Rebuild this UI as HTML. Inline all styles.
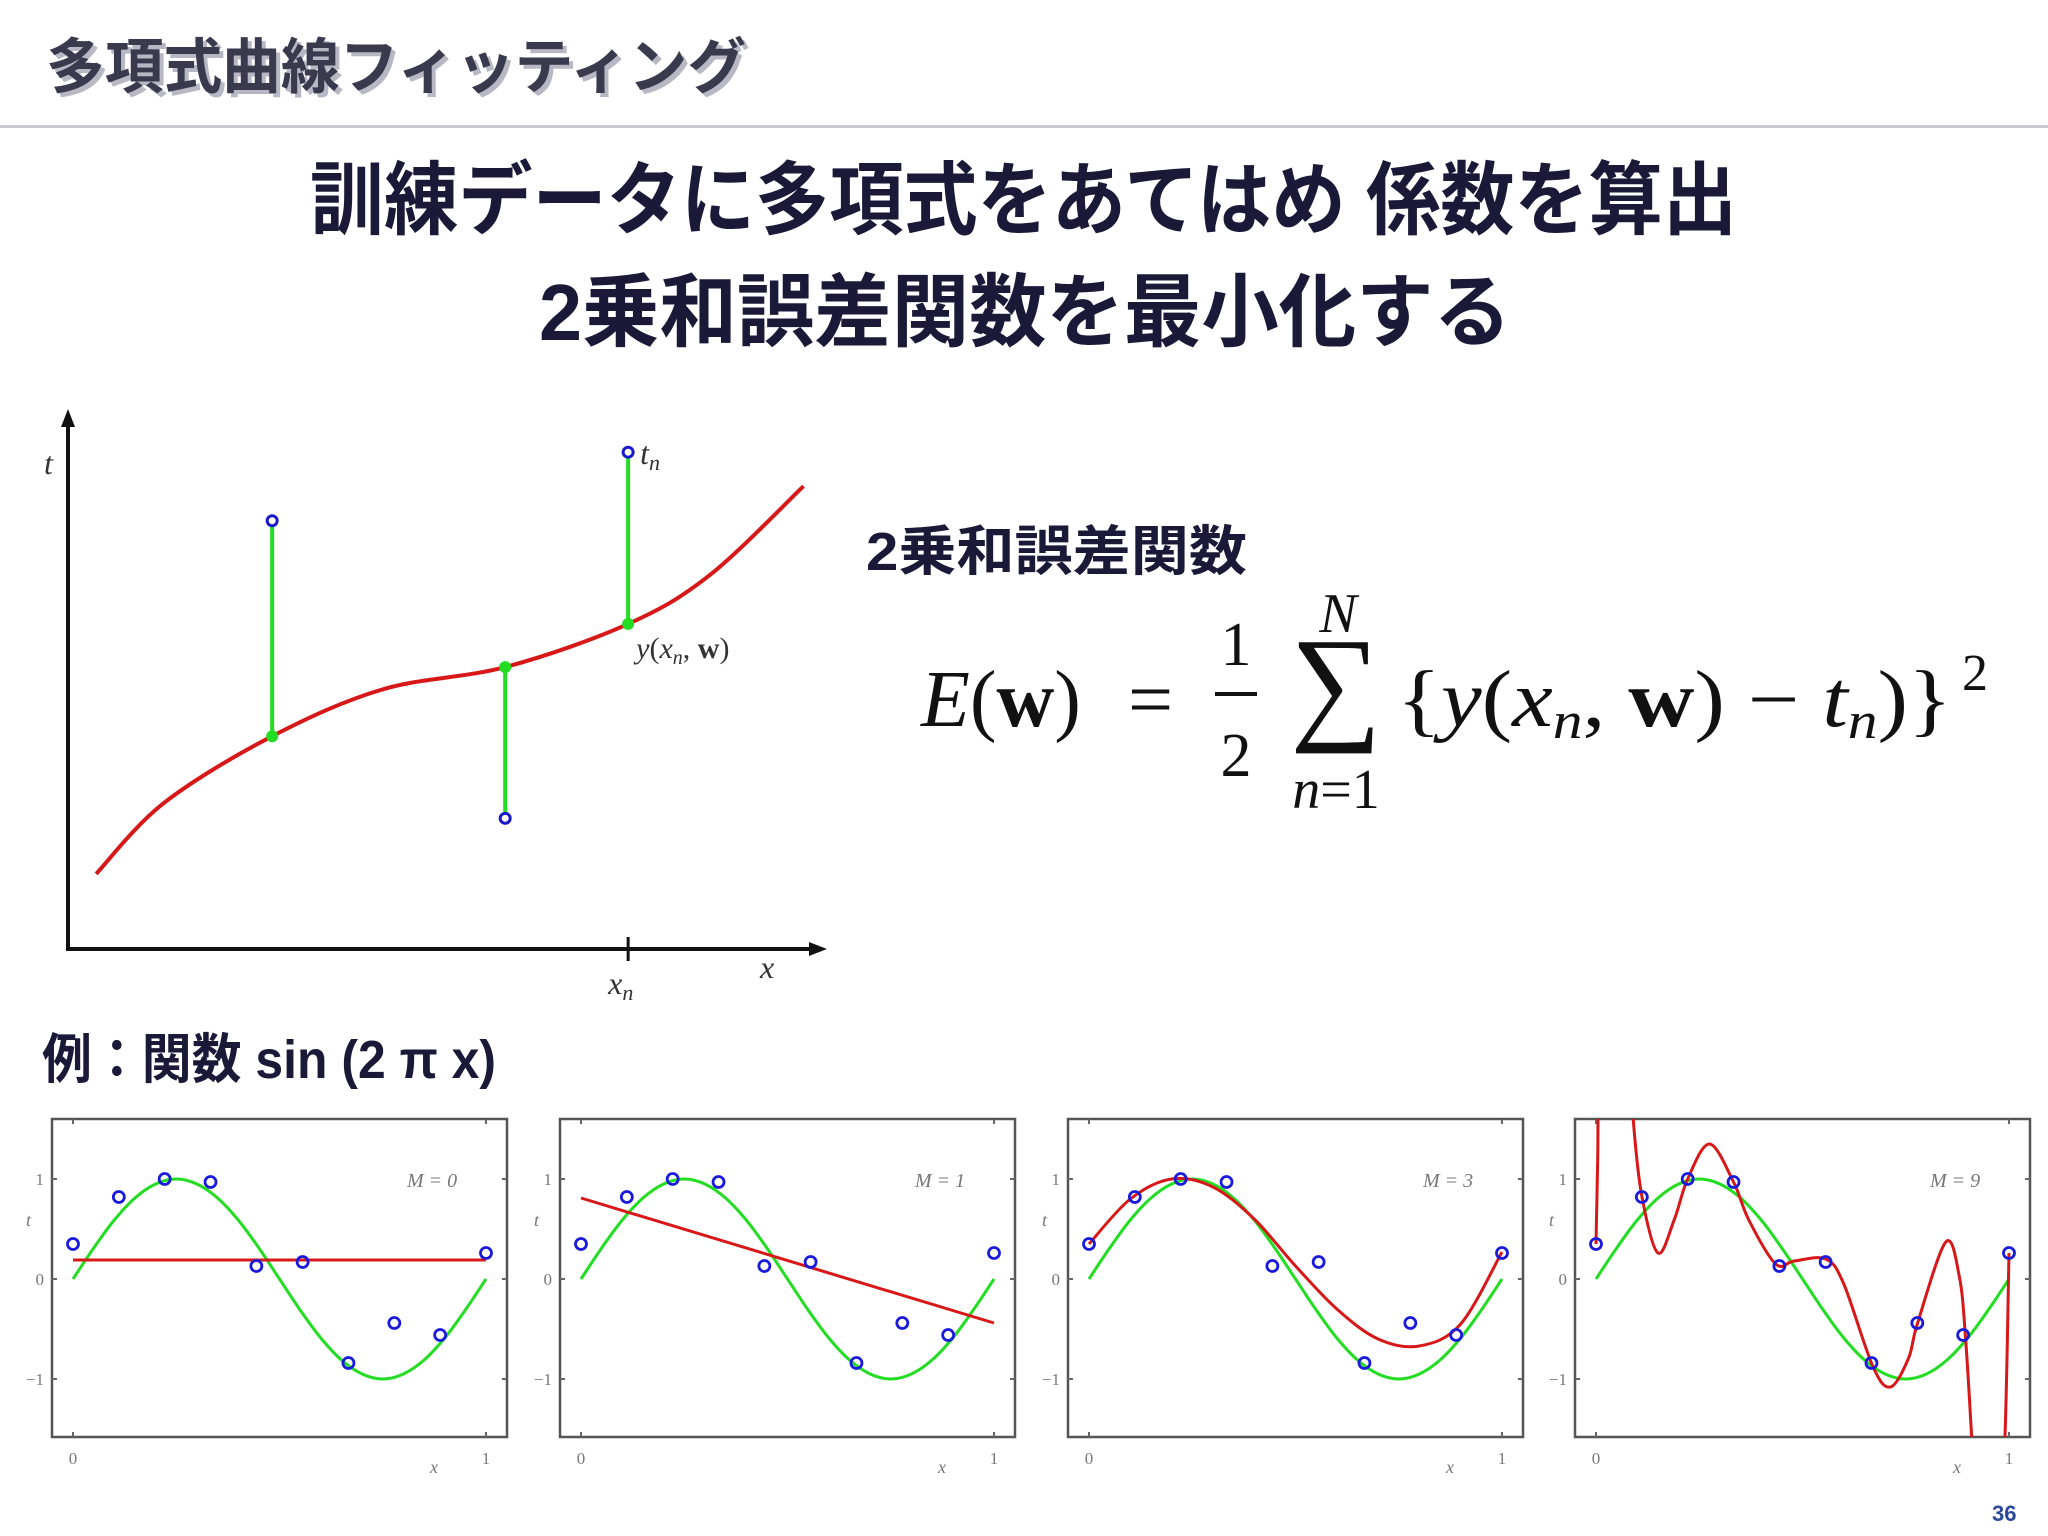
<!DOCTYPE html>
<html><head><meta charset="utf-8">
<style>
html,body{margin:0;padding:0;background:#fff;}
svg{display:block;}
.jp{font-family:"Liberation Sans","Noto Sans CJK JP",sans-serif;font-weight:bold;}
.ser{font-family:"Liberation Serif","DejaVu Serif",serif;}
</style></head>
<body>
<svg id="page" width="2048" height="1536" viewBox="0 0 2048 1536" xmlns="http://www.w3.org/2000/svg">
  <g>
    <text class="jp" x="50" y="92" font-size="60" fill="#b8b8c4" textLength="700" lengthAdjust="spacingAndGlyphs">多項式曲線フィッティング</text>
    <text class="jp" x="46" y="88" font-size="60" fill="#3a3a4e" textLength="700" lengthAdjust="spacingAndGlyphs">多項式曲線フィッティング</text>
    <rect x="0" y="125" width="2048" height="3" fill="#c8c8d8"/>
  </g>
  <text class="jp" x="310" y="228" font-size="80" fill="#1a1a38" textLength="1427" lengthAdjust="spacingAndGlyphs">訓練データに多項式をあてはめ 係数を算出</text>
  <text class="jp" x="539" y="340" font-size="80" fill="#1a1a38" textLength="972" lengthAdjust="spacingAndGlyphs">2乗和誤差関数を最小化する</text>
  <text class="jp" x="866" y="570" font-size="54" fill="#1a1a38" textLength="381" lengthAdjust="spacingAndGlyphs">2乗和誤差関数</text>

  <g class="ser" fill="#111">
    <text x="921" y="726" font-size="80"><tspan font-style="italic">E</tspan>(<tspan font-weight="bold">w</tspan>)</text>
    <text x="1128" y="726" font-size="80">=</text>
    <text x="1236" y="665" font-size="62" text-anchor="middle">1</text>
    <rect x="1215" y="692" width="42" height="4" fill="#111"/>
    <text x="1236" y="776" font-size="62" text-anchor="middle">2</text>
    <text x="1336" y="726" font-size="128" text-anchor="middle">∑</text>
    <text x="1338" y="632" font-size="56" font-style="italic" text-anchor="middle">N</text>
    <text x="1336" y="808" font-size="56" text-anchor="middle"><tspan font-style="italic">n</tspan>=1</text>
    <text x="1397" y="726" font-size="80" textLength="555" lengthAdjust="spacingAndGlyphs">{<tspan font-style="italic">y</tspan>(<tspan font-style="italic">x</tspan><tspan font-size="52" font-style="italic" dy="12">n</tspan><tspan dy="-12">, </tspan><tspan font-weight="bold">w</tspan>) − <tspan font-style="italic">t</tspan><tspan font-size="52" font-style="italic" dy="12">n</tspan><tspan dy="-12">)}</tspan></text>
    <text x="1962" y="690" font-size="52">2</text>
  </g>

  <g id="diagram"></g>

  <text class="jp" x="42" y="1078" font-size="54" fill="#1a1a38" textLength="454" lengthAdjust="spacingAndGlyphs">例：関数 sin (2 π x)</text>

  <g id="panels"></g>

  <text class="jp" x="1992" y="1521" font-size="22" fill="#2a4a9a">36</text>
</svg>
<script>
// ---- Top diagram data (normalized x in [0,1], t in [0,1]) ----
const curveX = [0.037, 0.126, 0.269, 0.415, 0.576, 0.738, 0.846, 0.969];
const curveT = [0.139, 0.270, 0.394, 0.481, 0.522, 0.602, 0.693, 0.857];
const obsX = [0.269, 0.576, 0.738];
const obsT = [0.793, 0.242, 0.920];
const fitT = [0.394, 0.522, 0.602];

// ---- Bottom panels data ----
const pointX = [0, 0.111, 0.222, 0.333, 0.444, 0.556, 0.667, 0.778, 0.889, 1.0];
const pointT = [0.35, 0.82, 1.0, 0.97, 0.13, 0.17, -0.84, -0.44, -0.56, 0.26];
const sinX = [0,0.05,0.1,0.15,0.2,0.25,0.3,0.35,0.4,0.45,0.5,0.55,0.6,0.65,0.7,0.75,0.8,0.85,0.9,0.95,1];
const sinT = [0,0.31,0.59,0.81,0.95,1,0.95,0.81,0.59,0.31,0,-0.31,-0.59,-0.81,-0.95,-1,-0.95,-0.81,-0.59,-0.31,0];
const m0X = [0, 1];
const m0T = [0.19, 0.19];
const m1X = [0, 1];
const m1T = [0.81, -0.44];
const m3X = [0,0.1,0.2,0.3,0.4,0.5,0.6,0.7,0.8,0.9,1];
const m3T = [0.35,0.8,1.0,0.92,0.6,0.13,-0.3,-0.6,-0.67,-0.45,0.27];
const m9X = [0,0.004,0.008,0.03,0.06,0.085,0.09,0.111,0.15,0.19,0.222,0.275,0.333,0.37,0.435,0.48,0.556,0.6,0.67,0.713,0.757,0.778,0.847,0.88,0.895,0.91,0.93,0.97,0.99,1.0];
const m9T = [0.35,1.2,2.2,4,4,2.2,1.6,0.83,0.26,0.6,1.0,1.35,0.97,0.59,0.15,0.18,0.2,-0.05,-0.87,-1.08,-0.79,-0.45,0.37,0.02,-0.6,-1.6,-3,-3,-1.6,0.26];
const panelLabels = ["M = 0", "M = 1", "M = 3", "M = 9"];
const yTickVals = [1, 0, -1];
const yTickLabels = ["1", "0", "−1"];
const xTickVals = [0, 1];
const xTickLabels = ["0", "1"];

const NS = "http://www.w3.org/2000/svg";
function mk(tag, attrs, parent) {
  const e = document.createElementNS(NS, tag);
  for (const k in attrs) e.setAttribute(k, attrs[k]);
  parent.appendChild(e);
  return e;
}
function smoothPath(pts) {
  let d = "M" + pts[0][0].toFixed(1) + "," + pts[0][1].toFixed(1);
  for (let i = 0; i < pts.length - 1; i++) {
    const p0 = pts[i - 1] || pts[i], p1 = pts[i], p2 = pts[i + 1], p3 = pts[i + 2] || p2;
    const c1 = [p1[0] + (p2[0] - p0[0]) / 6, p1[1] + (p2[1] - p0[1]) / 6];
    const c2 = [p2[0] - (p3[0] - p1[0]) / 6, p2[1] - (p3[1] - p1[1]) / 6];
    d += " C" + c1[0].toFixed(1) + "," + c1[1].toFixed(1) + " " + c2[0].toFixed(1) + "," + c2[1].toFixed(1) + " " + p2[0].toFixed(1) + "," + p2[1].toFixed(1);
  }
  return d;
}

// ---------- Top diagram ----------
(function () {
  const g = document.getElementById("diagram");
  const X0 = 68, X1 = 827, Y0 = 949, Y1 = 409;
  const sx = v => X0 + v * (X1 - X0);
  const sy = v => Y0 - v * (Y0 - Y1);
  const yAxis = mk("line", {x1: X0, y1: Y0 + 2, x2: X0, y2: Y1 + 14, stroke: "#111", "stroke-width": 4}, g);
  
  
  const ya = mk("polygon", {points: `${X0-7},${Y1+18} ${X0+7},${Y1+18} ${X0},${Y1}`, fill: "#111"}, g);
  
  
  const xAxis = mk("line", {x1: X0 - 2, y1: Y0, x2: X1 - 14, y2: Y0, stroke: "#111", "stroke-width": 4}, g);
  
  
  const xa = mk("polygon", {points: `${X1-18},${Y0-7} ${X1-18},${Y0+7} ${X1},${Y0}`, fill: "#111"}, g);
  
  
  const tick = mk("line", {x1: sx(obsX[2]), y1: Y0 - 12, x2: sx(obsX[2]), y2: Y0 + 12, stroke: "#111", "stroke-width": 3}, g);
  
  

  const pts = curveX.map((x, i) => [sx(x), sy(curveT[i])]);
  const c = mk("path", {d: smoothPath(pts), fill: "none", stroke: "#d81818", "stroke-width": 4}, g);
  
  

  obsX.forEach((x, i) => {
    const l = mk("line", {x1: sx(x), y1: sy(obsT[i]), x2: sx(x), y2: sy(fitT[i]), stroke: "#22dd22", "stroke-width": 4}, g);
    
    
    const d = mk("circle", {cx: sx(x), cy: sy(fitT[i]), r: 6, fill: "#22dd22"}, g);
    
    
    const o = mk("circle", {cx: sx(x), cy: sy(obsT[i]), r: 5, fill: "#fff", stroke: "#1a1acc", "stroke-width": 3}, g);
    
    
  });

  function lab(txt, x, y, size, name, html) {
    const t = mk("text", {x: x, y: y, "font-size": size, fill: "#333", "font-style": "italic", "font-family": "Liberation Serif, serif"}, g);
    
    
    t.innerHTML = html || txt;
    return t;
  }
  lab("t", 44, 474, 32, "t-axis-label");
  lab("", sx(obsX[2]) + 12, sy(obsT[2]) + 12, 32, "tn-label", 't<tspan font-size="22" dy="6">n</tspan>');
  lab("", sx(obsX[2]) + 8, sy(fitT[2]) + 34, 30, "y-xn-w-label", 'y<tspan font-style="normal">(</tspan>x<tspan font-size="20" dy="6">n</tspan><tspan dy="-6" font-style="normal">, </tspan><tspan font-style="normal" font-weight="bold">w</tspan><tspan font-style="normal">)</tspan>');
  lab("", sx(obsX[2]) - 20, 994, 32, "xn-label", 'x<tspan font-size="22" dy="6">n</tspan>');
  lab("x", 760, 978, 32, "x-axis-label");
})();

// ---------- Bottom panels ----------
(function () {
  const root = document.getElementById("panels");
  const panelLefts = [52, 560, 1068, 1575];
  const W = 455, TOP = 1119, BOT = 1437;
  const series = [[m0X, m0T], [m1X, m1T], [m3X, m3T], [m9X, m9T]];
  panelLefts.forEach((L, pi) => {
    const g = mk("g", {}, root);
    
    
    const sx = v => L + 21 + v * 413;
    const sy = v => 1279 - v * 100;
    const cid = "clip" + pi;
    const cp = mk("clipPath", {id: cid}, g);
    mk("rect", {x: L, y: TOP, width: W, height: BOT - TOP}, cp);
    const fr = mk("rect", {x: L, y: TOP, width: W, height: BOT - TOP, fill: "#fff", stroke: "#555", "stroke-width": 2.5}, g);
    
    
    yTickVals.forEach((v, i) => {
      mk("line", {x1: L, y1: sy(v), x2: L + 5, y2: sy(v), stroke: "#666", "stroke-width": 2}, g);
      mk("line", {x1: L + W - 5, y1: sy(v), x2: L + W, y2: sy(v), stroke: "#666", "stroke-width": 2}, g);
      const t = mk("text", {x: L - 8, y: sy(v) + 6, "font-size": 17, fill: "#777", "text-anchor": "end", "font-family": "Liberation Serif, serif"}, g);
      
      
      t.textContent = yTickLabels[i];
    });
    xTickVals.forEach((v, i) => {
      mk("line", {x1: sx(v), y1: TOP, x2: sx(v), y2: TOP + 5, stroke: "#666", "stroke-width": 2}, g);
      mk("line", {x1: sx(v), y1: BOT - 5, x2: sx(v), y2: BOT, stroke: "#666", "stroke-width": 2}, g);
      const t = mk("text", {x: sx(v), y: BOT + 27, "font-size": 17, fill: "#777", "text-anchor": "middle", "font-family": "Liberation Serif, serif"}, g);
      
      
      t.textContent = xTickLabels[i];
    });
    const xl = mk("text", {x: L + 378, y: BOT + 36, "font-size": 18, fill: "#777", "font-style": "italic", "font-family": "Liberation Serif, serif"}, g);
    
    
    xl.textContent = "x";
    const tl = mk("text", {x: L - 26, y: 1226, "font-size": 18, fill: "#777", "font-style": "italic", "font-family": "Liberation Serif, serif"}, g);
    
    
    tl.textContent = "t";
    const ml = mk("text", {x: L + 355, y: 1187, "font-size": 20, fill: "#777", "font-style": "italic", "font-family": "Liberation Serif, serif"}, g);
    
    
    ml.textContent = panelLabels[pi];

    const plot = mk("g", {"clip-path": "url(#" + cid + ")"}, g);
    const sp = mk("path", {d: smoothPath(sinX.map((x, i) => [sx(x), sy(sinT[i])])), fill: "none", stroke: "#22dd22", "stroke-width": 3}, plot);
    
    
    const [fx, ft] = series[pi];
    const fp = fx.length > 2 ? smoothPath(fx.map((x, i) => [sx(x), sy(ft[i])])) :
      "M" + sx(fx[0]) + "," + sy(ft[0]) + " L" + sx(fx[1]) + "," + sy(ft[1]);
    const rp = mk("path", {d: fp, fill: "none", stroke: "#d81818", "stroke-width": 3}, plot);
    
    
    pointX.forEach((x, i) => {
      const c = mk("circle", {cx: sx(x), cy: sy(pointT[i]), r: 5.5, fill: "none", stroke: "#1a1add", "stroke-width": 2.8}, g);
      
      
    });
  });
})();
</script>
</body></html>
